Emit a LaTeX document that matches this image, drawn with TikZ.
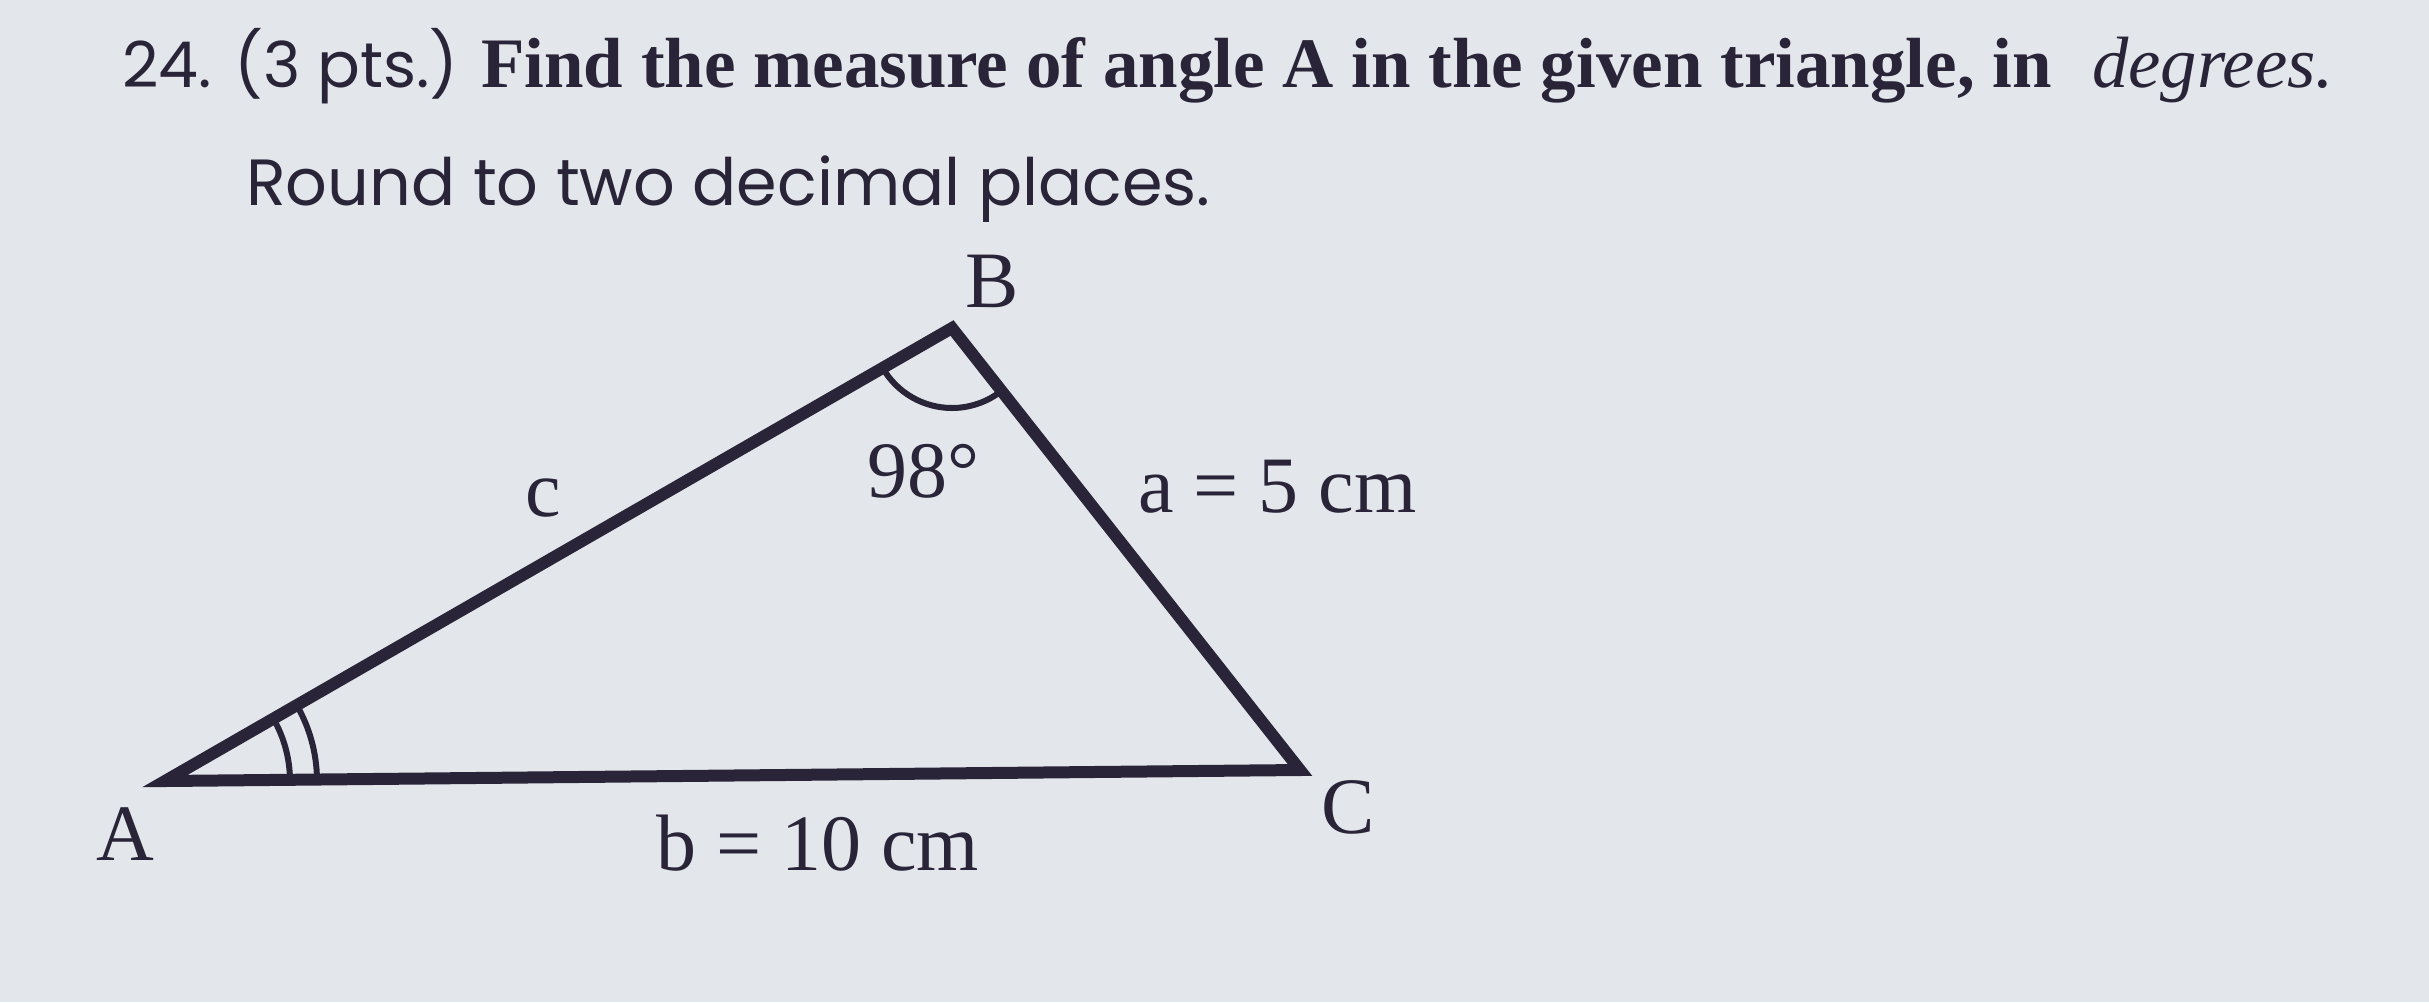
\documentclass[tikz,border=0pt]{standalone}
\usepackage{fontspec}
\setmainfont{Liberation Serif}
\newfontfamily\gothic{Poppins}
\usetikzlibrary{positioning}
\definecolor{paper}{RGB}{227,231,236}
\definecolor{ink}{RGB}{42,36,56}
\tikzset{every picture/.style={line width=0.75pt}}
\tikzset{
  side/.style={draw=ink, line width=3.6pt, line join=miter},
  anglearc/.style={draw=ink, line width=1.8pt},
  lbl/.style={inner sep=0pt, text=ink, font=\fontsize{24}{28}\selectfont},
  qserif/.style={inner sep=0pt, text=ink, font=\fontsize{21.3}{26}\selectfont},
  qsans/.style={inner sep=0pt, text=ink, font=\gothic\fontsize{19.6}{24}\selectfont},
}

\begin{document}
\begin{tikzpicture}[x=0.3pt,y=0.3pt,yscale=-1,xscale=1]
%Background
\fill[paper] (0,0) rectangle (2429,1002);
\useasboundingbox (0,0) rectangle (2429,1002);

%Shape: Triangle
\coordinate (A) at (165,781);
\coordinate (B) at (952,328);
\coordinate (C) at (1300,770);
\draw[side] (A) -- (B) -- (C) -- cycle;
%Shape: Arc (double, angle A)
\draw[anglearc] ([shift={(-0.6:125)}]A) arc[start angle=-0.6, end angle=-30, radius=125];
\draw[anglearc] ([shift={(-0.6:152)}]A) arc[start angle=-0.6, end angle=-30, radius=152];
%Shape: Arc (angle B)
\draw[anglearc] ([shift={(150:80)}]B) arc[start angle=150, end angle=51.8, radius=80];

% Text Node
\node[qsans, font=\gothic\fontsize{19}{24}\selectfont, anchor=base west] (num) at (121,87) {24. (3 pts.)};
% Text Node
\node[qserif, anchor=base west] (task) at (480,87) {\bfseries Find the measure of angle A in the given triangle, in};
% Text Node
\node[qserif, font=\fontsize{21.8}{26}\selectfont, anchor=base west] (unit) at (2091,87) {\itshape degrees.};
% Text Node
\node[qsans, anchor=base west] (round) at (245,205) {Round to two decimal places.};
% Text Node
\node[lbl, anchor=base] (labB) at (992,307) {B};
% Text Node
\node[lbl, anchor=base] (labA) at (125,860) {A};
% Text Node
\node[lbl, anchor=base] (labC) at (1348,833) {C};
% Text Node
\node[lbl, anchor=base] (labc) at (543,516) {c};
% Text Node
\node[lbl, anchor=base west] (laba) at (1137,512) {a = 5 cm};
% Text Node
\node[lbl, anchor=base west] (labb) at (655,870) {b = 10 cm};
% Text Node
\node[lbl, anchor=base] (angB) at (923,497) {98°};

\end{tikzpicture}
\end{document}
